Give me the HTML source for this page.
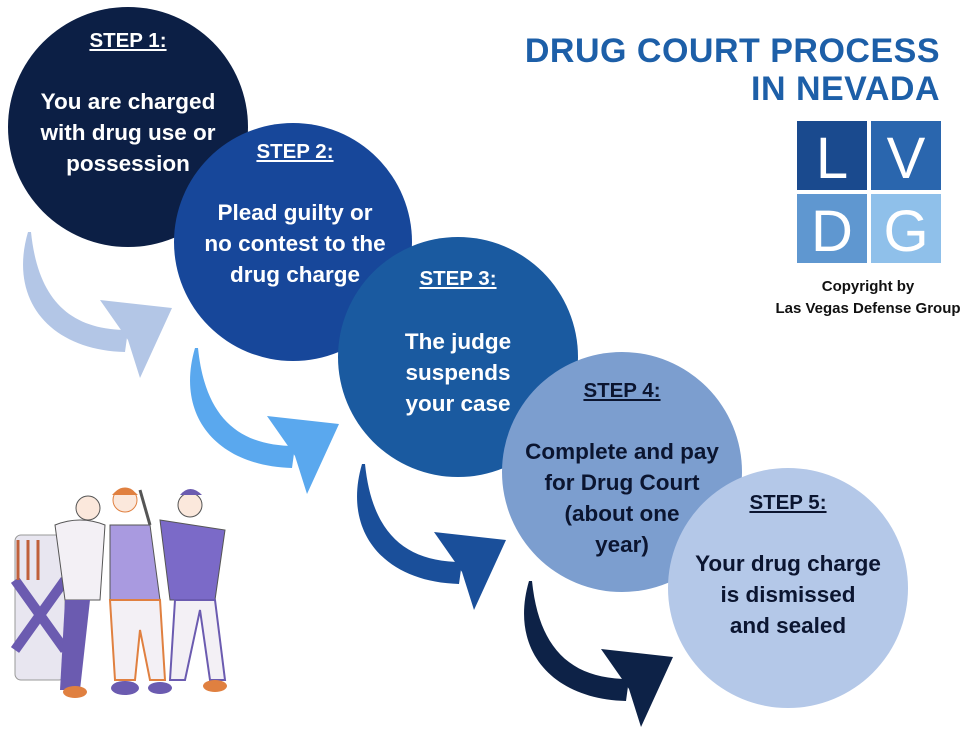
<!DOCTYPE html>
<html><head><meta charset="utf-8"><style>
body{margin:0;width:975px;height:739px;background:#fff;position:relative;overflow:hidden;font-family:"Liberation Sans",sans-serif;font-weight:bold}
.t{position:absolute;width:260px;text-align:center;font-size:22.5px;line-height:31px;color:#fff}
.s{text-decoration:underline;font-size:20.5px}
.d{color:#0b1530}
</style></head><body>
<svg width="975" height="739" style="position:absolute;left:0;top:0">
<defs>
<g id="arr"><path d="M28,232 C8,300 50,350 125,352 L128,330 C70,330 38,300 31,232 Z"/><path d="M100,300 L172,308 L140,378 L128,340 Z"/></g>
</defs>
<use href="#arr" fill="#b3c6e6"/>
<use href="#arr" fill="#5aa8ee" transform="translate(167,116)"/>
<use href="#arr" fill="#1a4f9a" transform="translate(334,232)"/>
<use href="#arr" fill="#0d2247" transform="translate(501,349)"/>
<circle cx="128" cy="127" r="120" fill="#0c1f45"/>
<circle cx="293" cy="242" r="119" fill="#17479a"/>
<circle cx="458" cy="357" r="120" fill="#1a5aa0"/>
<circle cx="622" cy="472" r="120" fill="#7c9ecf"/>
<circle cx="788" cy="588" r="120" fill="#b4c8e8"/>
<rect x="797" y="121" width="70" height="69" fill="#1a4a8e"/>
<rect x="871" y="121" width="70" height="69" fill="#2a66ae"/>
<rect x="797" y="194" width="70" height="69" fill="#5f97d0"/>
<rect x="871" y="194" width="70" height="69" fill="#8fc0ea"/>
<g font-family="Liberation Sans,sans-serif" font-size="58" font-weight="normal" fill="#fff" text-anchor="middle">
<text x="832" y="178">L</text><text x="906" y="178">V</text><text x="832" y="251">D</text><text x="906" y="251">G</text></g>
<!-- illustration -->
<rect x="15" y="535" width="50" height="145" rx="6" fill="#e8e6f0" stroke="#999" stroke-width="1"/>
<path d="M15,580 L65,650 M65,580 L15,650" stroke="#6b5bb0" stroke-width="10"/>
<path d="M18,540 v40 M28,540 v40 M38,540 v40" stroke="#c0603a" stroke-width="3"/>
<path d="M55,525 Q80,515 105,525 L100,600 L65,600 Z" fill="#f3f0f5" stroke="#555"/>
<path d="M65,600 L60,690 L80,690 L90,600 Z" fill="#6b5bb0"/>
<path d="M110,525 L150,525 L160,600 L110,600 Z" fill="#a99ae0" stroke="#555"/>
<path d="M110,600 L115,680 L135,680 L140,630 L150,680 L165,680 L160,600Z" fill="#f3f0f5" stroke="#e08040" stroke-width="2"/>
<path d="M160,520 L225,530 L215,600 L170,600 Z" fill="#7b6ac8" stroke="#555"/>
<path d="M175,600 L170,680 L185,680 L200,610 L210,680 L225,680 L215,600Z" fill="#f3f0f5" stroke="#6b5bb0" stroke-width="2"/>
<circle cx="88" cy="508" r="12" fill="#fbe8dc" stroke="#555"/>
<circle cx="125" cy="500" r="12" fill="#fbe8dc" stroke="#e08040"/>
<circle cx="190" cy="505" r="12" fill="#fbe8dc" stroke="#555"/>
<path d="M180,495 q10,-12 22,0" fill="#6b5bb0"/>
<path d="M112,495 q12,-14 26,0" fill="#e08040"/>
<path d="M140,490 L150,525" stroke="#555" stroke-width="3"/>
<ellipse cx="75" cy="692" rx="12" ry="6" fill="#e08040"/>
<ellipse cx="125" cy="688" rx="14" ry="7" fill="#6b5bb0"/>
<ellipse cx="160" cy="688" rx="12" ry="6" fill="#6b5bb0"/>
<ellipse cx="215" cy="686" rx="12" ry="6" fill="#e08040"/>
</svg>
<div style="position:absolute;right:35px;top:32px;text-align:right;color:#1d5fa8;font-size:34px;line-height:38px;letter-spacing:0.5px">DRUG COURT PROCESS<br>IN NEVADA</div>
<div style="position:absolute;left:768px;top:276px;width:200px;text-align:center;font-size:15px;line-height:22px;color:#111">Copyright by<br>Las Vegas Defense Group</div>
<div class="t" style="left:-2px;top:24px"><span class="s">STEP 1:</span><br><div style="height:30px"></div>You are charged<br>with drug use or<br>possession</div>
<div class="t" style="left:165px;top:135px"><span class="s">STEP 2:</span><br><div style="height:30px"></div>Plead guilty or<br>no contest to the<br>drug charge</div>
<div class="t" style="left:328px;top:262px"><span class="s">STEP 3:</span><br><div style="height:32px"></div>The judge<br>suspends<br>your case</div>
<div class="t d" style="left:492px;top:374px"><span class="s">STEP 4:</span><br><div style="height:30px"></div>Complete and pay<br>for Drug Court<br>(about one<br>year)</div>
<div class="t d" style="left:658px;top:486px"><span class="s">STEP 5:</span><br><div style="height:30px"></div>Your drug charge<br>is dismissed<br>and sealed</div>
</body></html>
